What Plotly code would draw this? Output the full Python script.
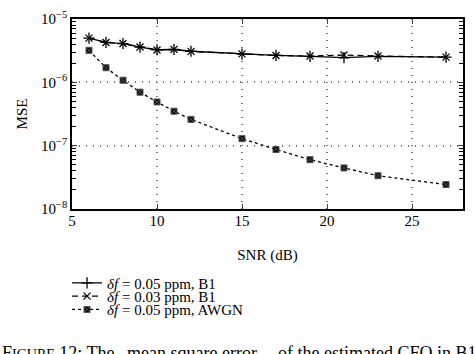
import plotly.graph_objects as go

snr = [6, 7, 8, 9, 10, 11, 12, 15, 17, 19, 21, 23, 27]
mse_b1_005 = [5.0e-6, 4.27e-6, 4.1e-6, 3.6e-6, 3.27e-6, 3.3e-6, 3.1e-6, 2.8e-6, 2.66e-6, 2.57e-6, 2.45e-6, 2.57e-6, 2.5e-6]
mse_b1_003 = [5.0e-6, 4.25e-6, 4.1e-6, 3.62e-6, 3.25e-6, 3.32e-6, 3.08e-6, 2.82e-6, 2.66e-6, 2.6e-6, 2.7e-6, 2.6e-6, 2.5e-6]
mse_awgn = [3.2e-6, 1.7e-6, 1.08e-6, 7.0e-7, 4.9e-7, 3.5e-7, 2.6e-7, 1.29e-7, 8.7e-8, 6.0e-8, 4.45e-8, 3.35e-8, 2.43e-8]

names = ["<i>δf</i> = 0.05 ppm, B1", "<i>δf</i> = 0.03 ppm, B1", "<i>δf</i> = 0.05 ppm, AWGN"]
ytick_vals = [1e-8, 1e-7, 1e-6, 1e-5]
ytick_text = ["10<sup>−8</sup>", "10<sup>−7</sup>", "10<sup>−6</sup>", "10<sup>−5</sup>"]
yminor_vals = [m * 10.0 ** e for e in (-8, -7, -6) for m in range(2, 10)]
xtick_vals = [5, 10, 15, 20, 25]

FONT = "Liberation Serif"
YRANGE = [-8.0005, -4.9995]

fig = go.Figure()
fig.add_trace(go.Scatter(x=snr, y=mse_b1_005, name=names[0], mode="lines+markers", legend="legend",
                         line=dict(color="black", width=1.3, dash="solid"),
                         marker=dict(symbol="cross-thin", size=8, color="black",
                                     line=dict(width=1.3, color="black"))))
fig.add_trace(go.Scatter(x=snr, y=mse_b1_003, name=names[1], mode="lines+markers", legend="legend2",
                         line=dict(color="black", width=1.3, dash="6px,4px"),
                         marker=dict(symbol="x-thin", size=7, color="black",
                                     line=dict(width=1.3, color="black"))))
fig.add_trace(go.Scatter(x=snr, y=mse_awgn, name=names[2], mode="lines+markers", legend="legend3",
                         line=dict(color="black", width=1.3, dash="dot"),
                         marker=dict(symbol="square-x", size=6, color="black",
                                     line=dict(width=1, color="#555"))))
# invisible trace on the overlay axis that carries the right-hand minor ticks
fig.add_trace(go.Scatter(x=[snr[0]], y=[mse_awgn[0]], yaxis="y2", mode="markers",
                         marker=dict(opacity=0), showlegend=False, hoverinfo="skip"))

fig.update_xaxes(range=[5, 28], tickvals=xtick_vals, ticks="inside", ticklen=5,
                 showline=True, linecolor="black", linewidth=1.5, mirror="ticks",
                 showgrid=True, gridcolor="#777", griddash="1px,6px", gridwidth=1.5,
                 zeroline=False, ticklabelstandoff=-3,
                 tickfont=dict(family=FONT, size=15, color="black"),
                 title=dict(text="SNR (dB)", font=dict(family=FONT, size=15, color="black"), standoff=22))
fig.update_layout(
    yaxis=dict(type="log", range=YRANGE, tickmode="array", tickvals=ytick_vals, ticktext=ytick_text,
               ticks="inside", ticklen=5,
               showline=True, linecolor="black", linewidth=1.5, mirror="ticks",
               showgrid=True, gridcolor="#777", griddash="1px,6px", gridwidth=1.5,
               minor=dict(tickmode="array", tickvals=yminor_vals, ticks="inside", ticklen=4,
                          tickwidth=1.2, tickcolor="black", showgrid=False),
               tickfont=dict(family=FONT, size=15, color="black"),
               title=dict(text="MSE", font=dict(family=FONT, size=15, color="black"), standoff=10)),
    yaxis2=dict(type="log", range=YRANGE, overlaying="y", side="right", anchor="x",
                tickmode="array", tickvals=yminor_vals,
                ticks="inside", ticklen=4, tickwidth=1.2, tickcolor="black", showticklabels=False,
                showgrid=False, showline=False, zeroline=False),
)

leg_common = dict(x=-0.0127, xanchor="left", yanchor="middle", orientation="v",
                  font=dict(family=FONT, size=15, color="black"), itemwidth=30,
                  bgcolor="rgba(0,0,0,0)")
fig.update_layout(
    width=474, height=354,
    margin=dict(l=72, r=9, t=9, b=145),
    plot_bgcolor="white", paper_bgcolor="white",
    font=dict(family=FONT, size=15, color="black"),
    legend=dict(y=-0.39, **leg_common),
    legend2=dict(y=-0.46, **leg_common),
    legend3=dict(y=-0.53, **leg_common),
    showlegend=True,
)
cap_font = dict(family=FONT, size=18, color="black")
cap_y = -0.695
fig.add_annotation(text="F<span style='font-size:14px'>IGURE</span> 12: The",
                   xref="paper", yref="paper", x=-0.183, y=cap_y, xanchor="left", yanchor="top",
                   showarrow=False, font=cap_font)
fig.add_annotation(text="mean square error",
                   xref="paper", yref="paper", x=0.135, y=cap_y, xanchor="left", yanchor="top",
                   showarrow=False, font=cap_font)
fig.add_annotation(text="of the estimated CFO in B1",
                   xref="paper", yref="paper", x=0.522, y=cap_y, xanchor="left", yanchor="top",
                   showarrow=False, font=cap_font)

fig.write_html("out.html")
